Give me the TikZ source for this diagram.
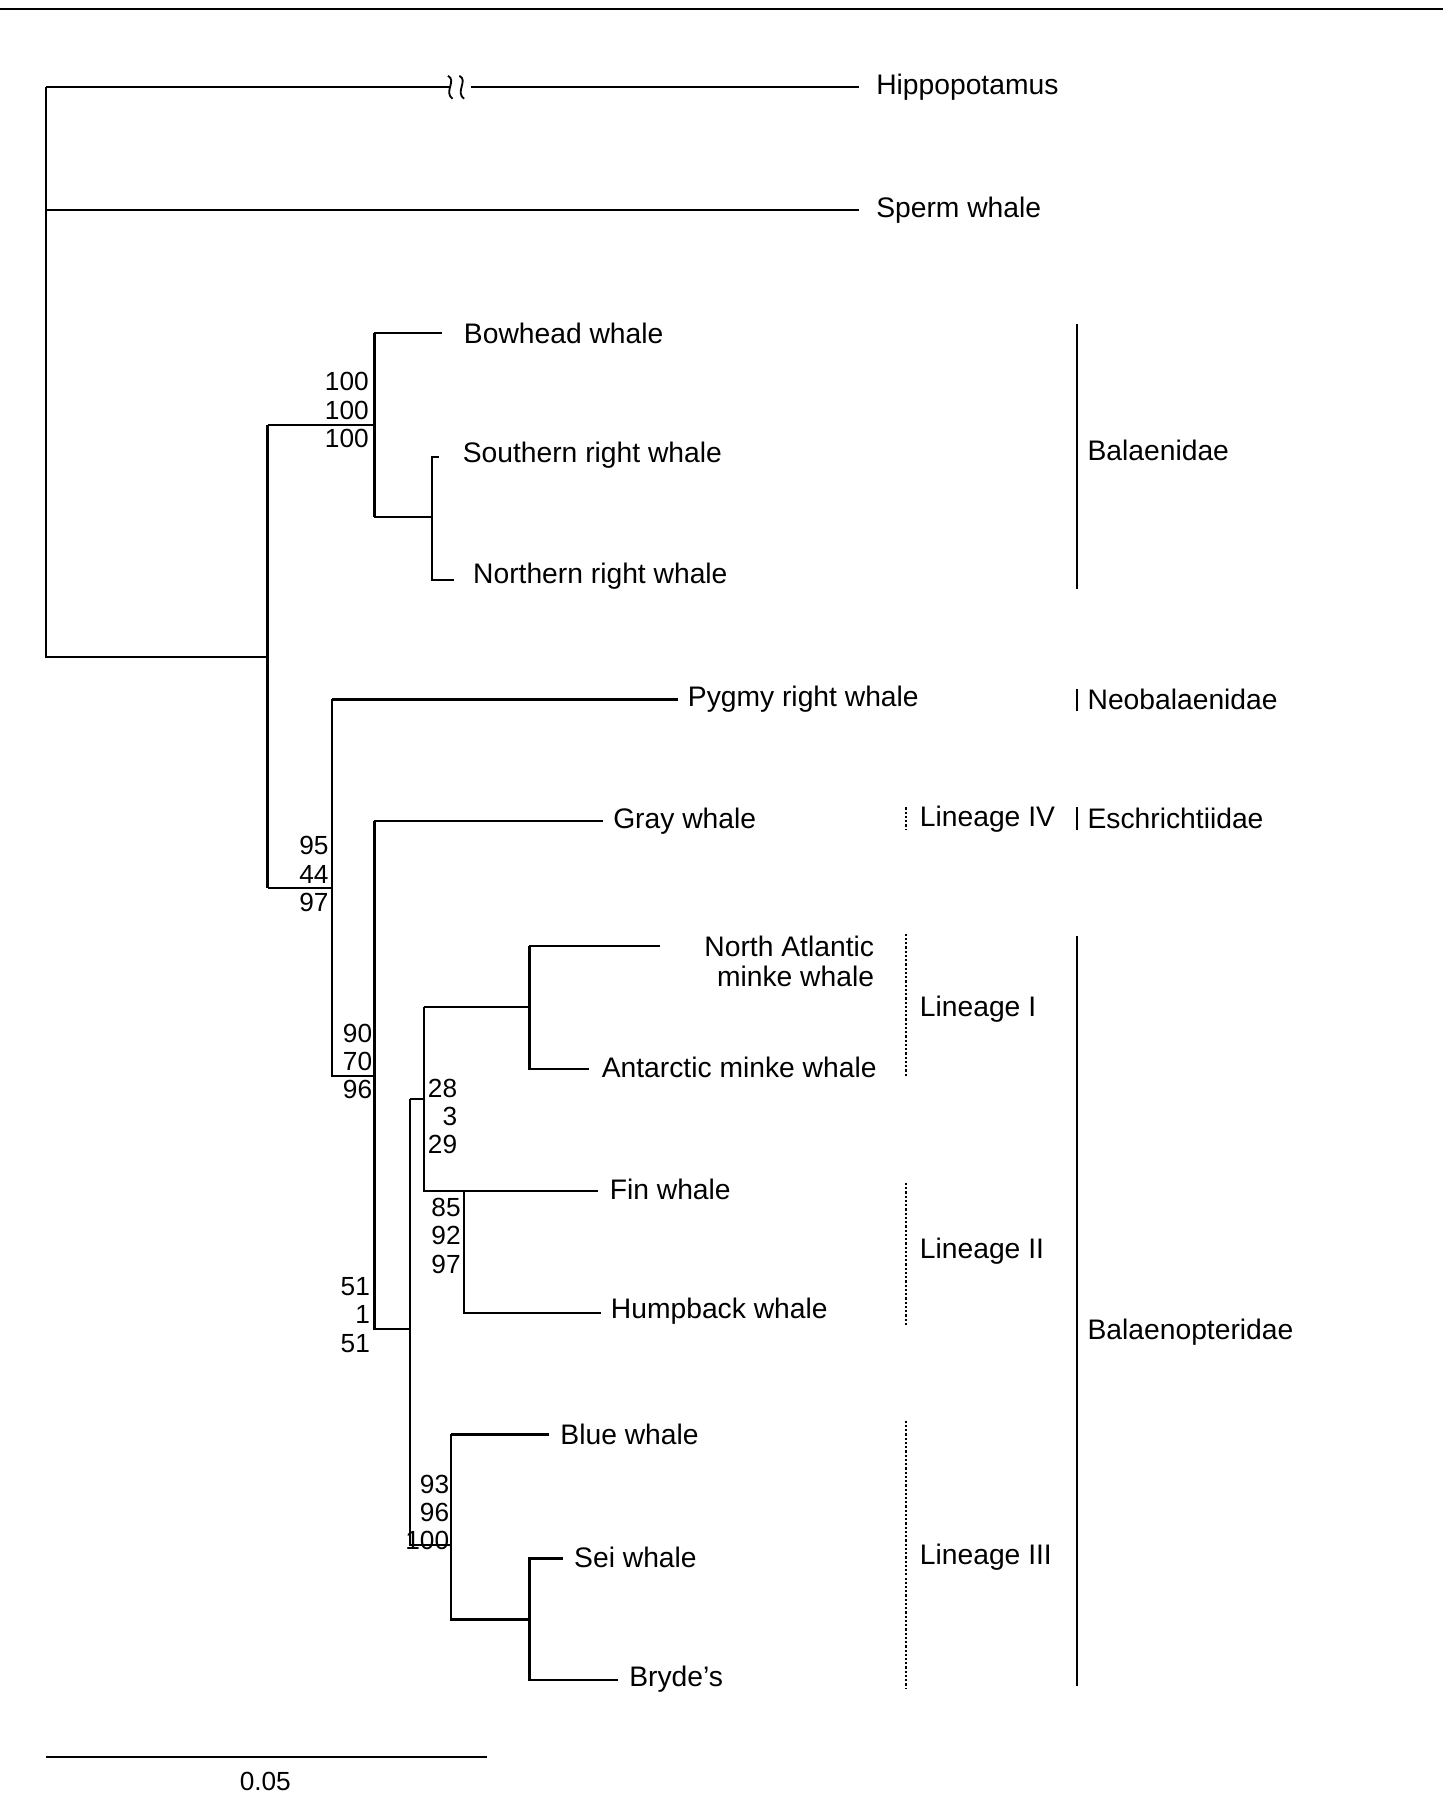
\documentclass[tikz,border=0pt]{standalone}
\usepackage{fontspec}
\setmainfont{Liberation Sans}
\begin{document}
\begin{tikzpicture}[x=0.02cm,y=-0.02cm,line width=1.1pt,
  lab/.style={anchor=west,inner sep=0pt,font=\fontsize{14}{16}\selectfont},
  bs/.style={anchor=east,inner sep=0pt,font=\fontsize{13}{15}\selectfont,align=right},
  dot/.style={densely dotted,line width=1.1pt},
  br/.style={line width=1.1pt}]
\useasboundingbox (0,0) rectangle (1256,1569);
\draw[line width=0.8pt] (0,8) -- (1256,8);
% labels
\node[lab] (hip) at (762,76) {Hippopotamus};
\node[lab] (sp) at (762,183) {Sperm whale};
\node[lab] (bow) at (403,290) {Bowhead whale};
\node[lab] (sr) at (402,396) {Southern right whale};
\node[lab] (nr) at (411,502) {Northern right whale};
\node[lab] (py) at (598,609) {Pygmy right whale};
\node[lab] (gr) at (533,715) {Gray whale};
\node[anchor=east,inner sep=0pt,align=right,font=\fontsize{14}{16}\selectfont] (na) at (762,837) {North Atlantic\\[-1pt]minke whale};
\node[lab] (an) at (523,929) {Antarctic minke whale};
\node[lab] (fin) at (530,1036) {Fin whale};
\node[lab] (hu) at (531,1142) {Humpback whale};
\node[lab] (bl) at (487,1249) {Blue whale};
\node[lab] (sei) at (499,1356) {Sei whale};
\node[lab] (bry) at (547,1462) {Bryde's};
% tree
\draw (40,76) -- (392,76) (410,76) -- (748,76);
\draw[line width=0.9pt] (390,66) .. controls (398,70) and (386,80) .. (394,86);
\draw[line width=0.9pt] (400,66) .. controls (408,70) and (396,80) .. (404,86);
\draw (40,76) -- (40,572) -- (233,572);
\draw (40,183) -- (748,183);
\draw (233,370) -- (233,773);
\draw (233,370) -- (326,370);
\draw (326,290) -- (326,450);
\draw (326,290) -- (385,290);
\draw (326,450) -- (376,450);
\draw (382,398) -- (376,398) -- (376,505) -- (395,505);
\draw (233,773) -- (289,773);
\draw (289,609) -- (289,937) -- (326,937);
\draw (289,609) -- (590,609);
\draw (326,715) -- (326,1157) -- (357,1157);
\draw (326,715) -- (525,715);
\draw (357,957) -- (357,1345) -- (393,1345);
\draw (357,957) -- (369,957);
\draw (369,877) -- (369,1037) -- (404,1037);
\draw (369,877) -- (461,877);
\draw (461,824) -- (461,931) -- (513,931);
\draw (461,824) -- (575,824);
\draw (404,1037) -- (521,1037);
\draw (404,1037) -- (404,1143) -- (523,1143);
\draw (393,1249) -- (393,1410) -- (461,1410);
\draw (393,1249) -- (478,1249);
\draw (490,1357) -- (461,1357) -- (461,1463) -- (538,1463);
% bootstraps
\node[bs] (b1) at (322,357) {100\\[-1pt]100\\[-1pt]100};
\node[bs] (b2) at (287,761) {95\\[-1pt]44\\[-1pt]97};
\node[bs] (b3) at (325,924) {90\\[-1pt]70\\[-1pt]96};
\node[bs] (b4) at (323,1145) {51\\[-1pt]1\\[-1pt]51};
\node[bs] (b5) at (399,972) {28\\[-1pt]3\\[-1pt]29};
\node[bs] (b6) at (402,1076) {85\\[-1pt]92\\[-1pt]97};
\node[bs] (b7) at (392,1317) {93\\[-1pt]96\\[-1pt]100};
% lineages
\draw[dot] (789,703) -- (789,723);
\draw[dot] (789,813) -- (789,937);
\draw[dot] (789,1030) -- (789,1155);
\draw[dot] (789,1237) -- (789,1470);
\node[lab] (l4) at (800,713) {Lineage IV};
\node[lab] (l1) at (800,879) {Lineage I};
\node[lab] (l2) at (800,1089) {Lineage II};
\node[lab] (l3) at (800,1356) {Lineage III};
\draw[br] (938,282) -- (938,513);
\draw[br] (938,600) -- (938,619);
\draw[br] (938,703) -- (938,723);
\draw[br] (938,815) -- (938,1468);
\node[lab] (f1) at (946,392) {Balaenidae};
\node[lab] (f2) at (946,609) {Neobalaenidae};
\node[lab] (f3) at (946,713) {Eschrichtiidae};
\node[lab] (f4) at (946,1160) {Balaenopteridae};
% scale
\draw (40,1530) -- (424,1530);
\node[inner sep=0pt,font=\fontsize{13}{15}\selectfont] (sc) at (231,1551) {0.05};
\end{tikzpicture}
\end{document}
